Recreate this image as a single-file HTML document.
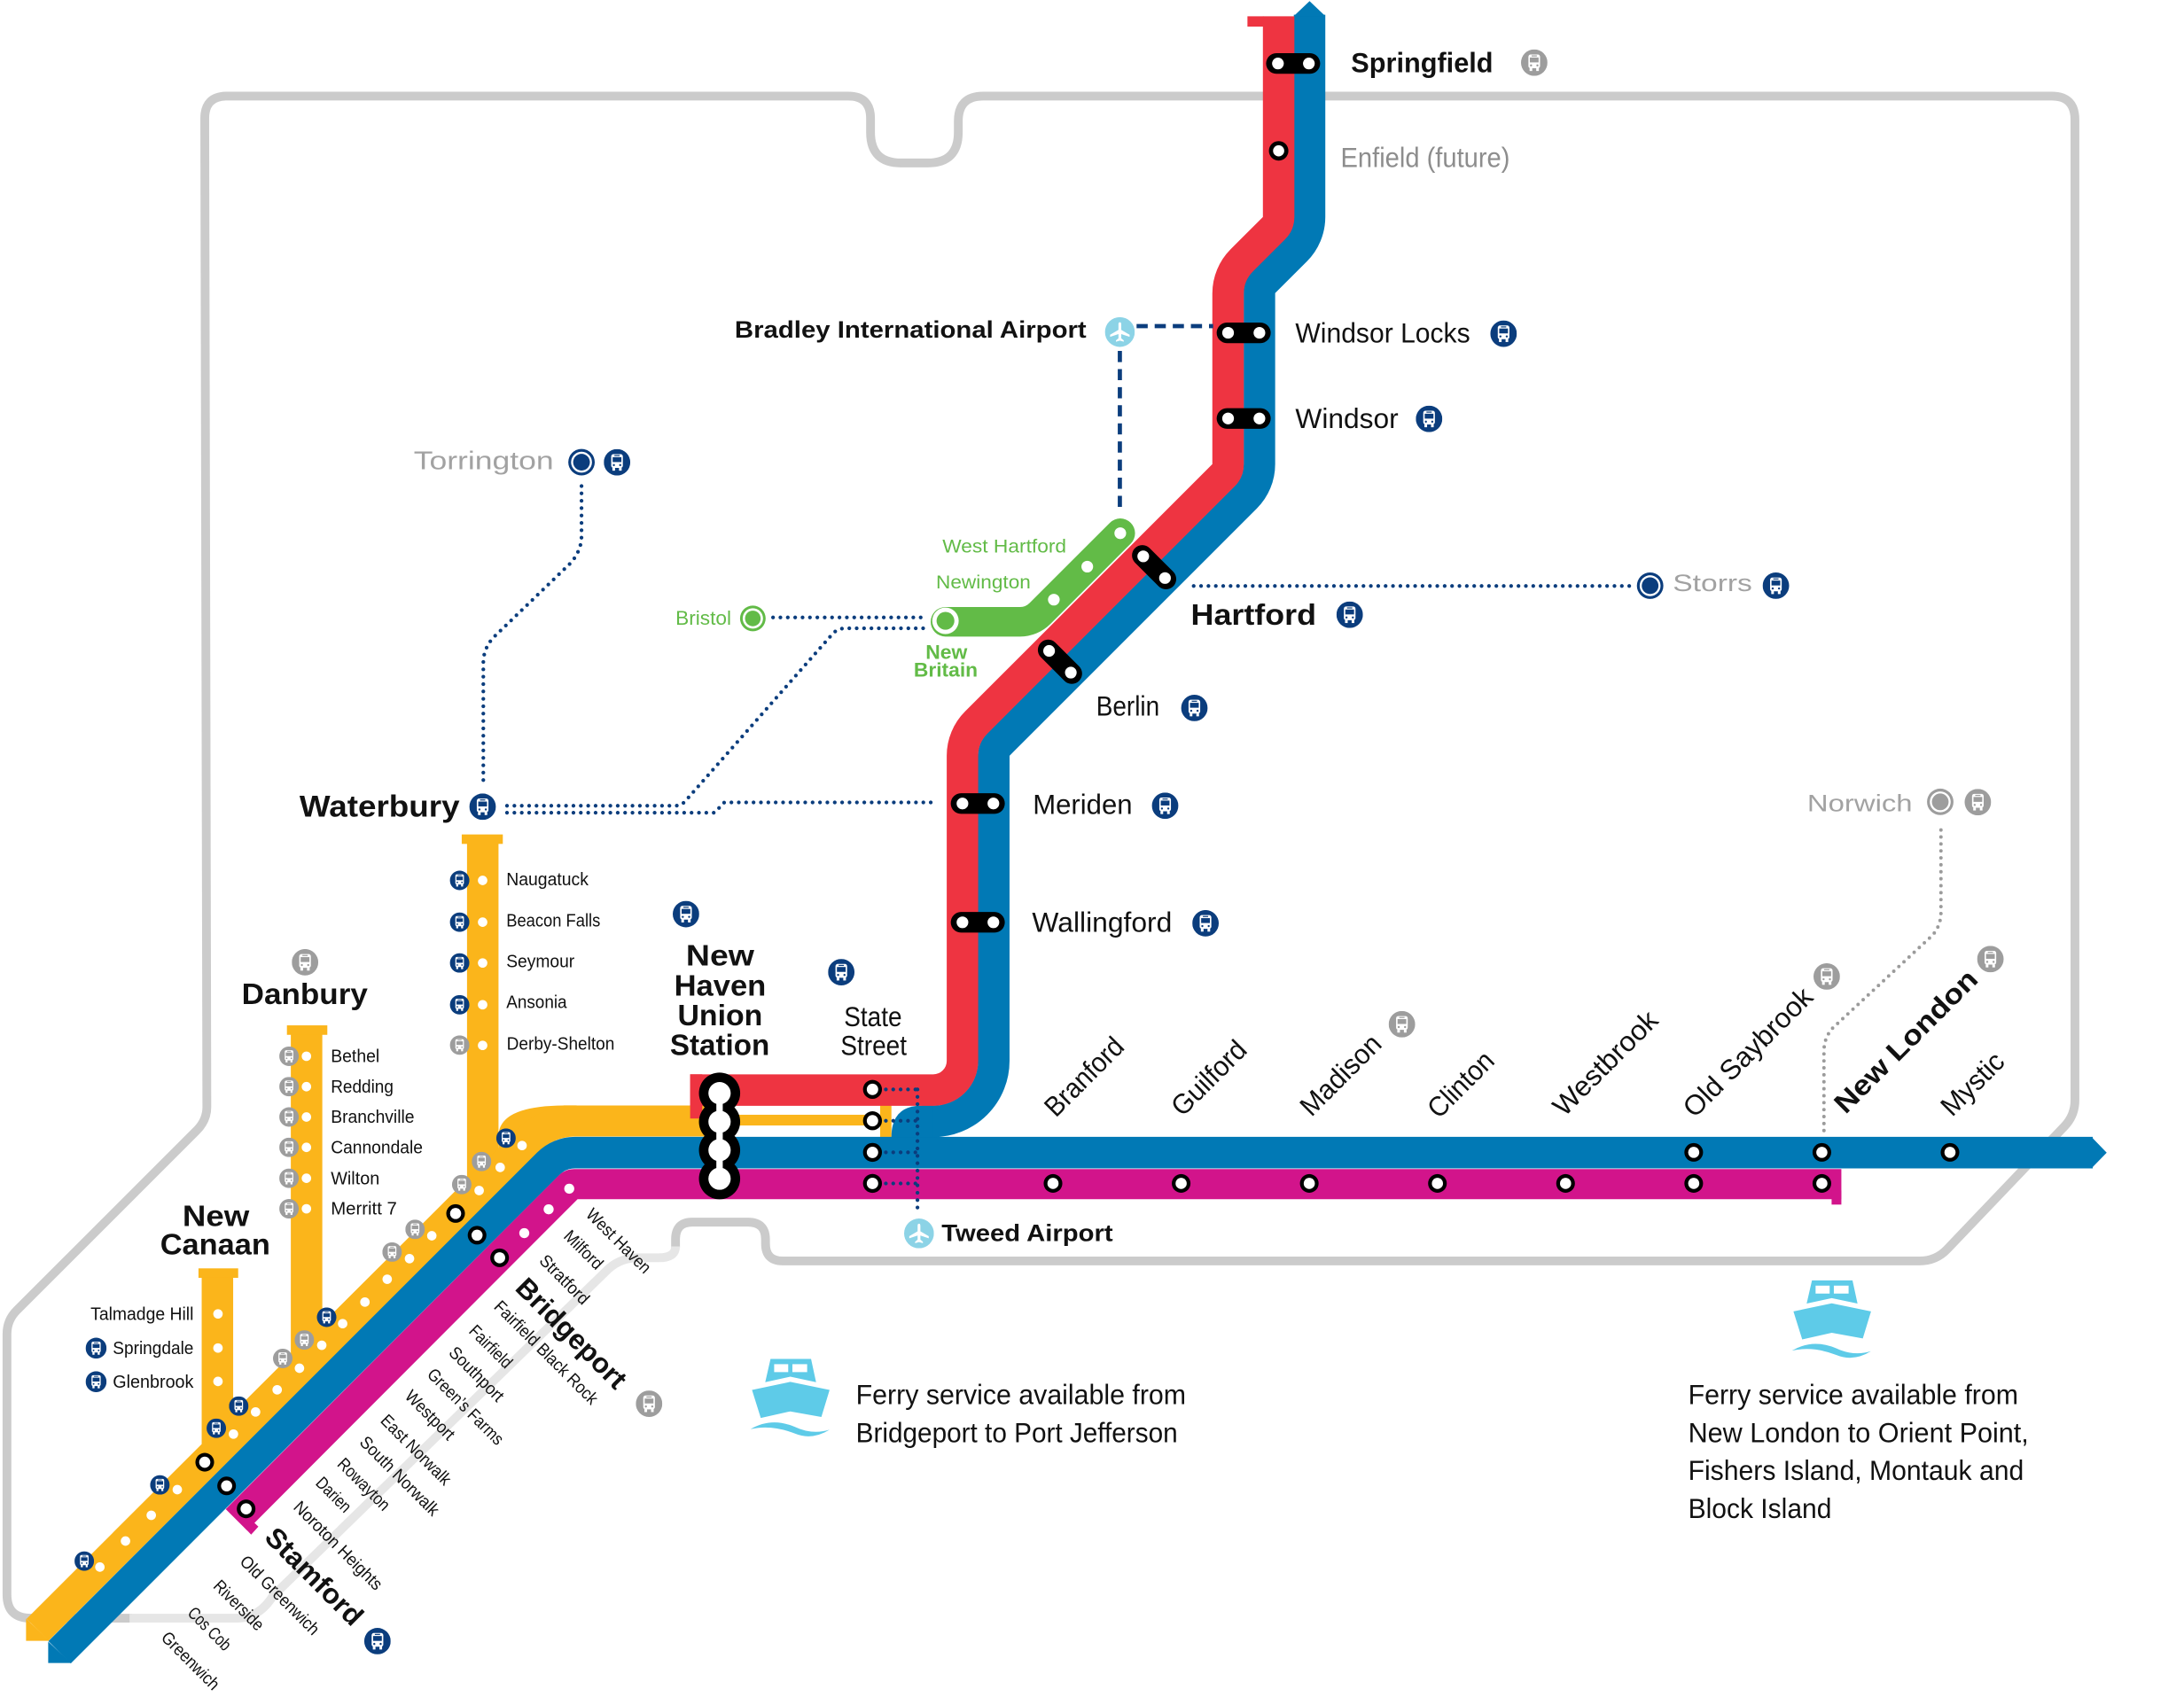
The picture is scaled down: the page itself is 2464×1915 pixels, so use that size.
<!DOCTYPE html>
<html><head><meta charset="utf-8"><style>
html,body{margin:0;padding:0;background:#fff;}
svg{display:block;}
text{font-family:"Liberation Sans",Arial,sans-serif;fill:#111;}
.b{font-weight:bold;}
.g{fill:#8d8d8d;}
.lg{fill:#a2a2a2;}
.gr{fill:#62bb47;}
.dot{fill:none;stroke:#0b3d7d;stroke-width:2.7;stroke-linecap:round;stroke-dasharray:0 5.3;}
.gdot{fill:none;stroke:#9b9b9b;stroke-width:2.5;stroke-linecap:round;stroke-dasharray:0 5;}
.dash{fill:none;stroke:#0b3d7d;stroke-width:3;stroke-dasharray:8 5;}
</style></head><body>
<svg width="2464" height="1915" viewBox="0 0 1568 1218.6" preserveAspectRatio="none" xmlns="http://www.w3.org/2000/svg">
<defs>
<symbol id="bn" viewBox="-10 -10 20 20"><circle r="10" fill="#0b3d7d"/><rect x="-4.4" y="-6.2" width="8.8" height="10.4" rx="1.7" fill="#fff"/><rect x="-3.3" y="-3.9" width="6.6" height="3.7" fill="#0b3d7d"/><rect x="-2" y="-5.5" width="4" height="0.8" fill="#0b3d7d"/><circle cx="-2.4" cy="2.1" r="0.8" fill="#0b3d7d"/><circle cx="2.4" cy="2.1" r="0.8" fill="#0b3d7d"/><rect x="-3.5" y="4" width="2" height="2.3" fill="#fff"/><rect x="1.5" y="4" width="2" height="2.3" fill="#fff"/></symbol>
<symbol id="bg" viewBox="-10 -10 20 20"><circle r="10" fill="#9d9d9d"/><rect x="-4.4" y="-6.2" width="8.8" height="10.4" rx="1.7" fill="#fff"/><rect x="-3.3" y="-3.9" width="6.6" height="3.7" fill="#9d9d9d"/><rect x="-2" y="-5.5" width="4" height="0.8" fill="#9d9d9d"/><circle cx="-2.4" cy="2.1" r="0.8" fill="#9d9d9d"/><circle cx="2.4" cy="2.1" r="0.8" fill="#9d9d9d"/><rect x="-3.5" y="4" width="2" height="2.3" fill="#fff"/><rect x="1.5" y="4" width="2" height="2.3" fill="#fff"/></symbol>
<symbol id="air" viewBox="-10.7 -10.7 21.4 21.4"><circle r="10.7" fill="#8cd3e6"/><path d="M0,-7 C1,-7 1,-6 1,-5 L1,-1.5 L7,2 L7,3.5 L1,1.5 L1,4.5 L2.8,6 L2.8,7 L0,6.2 L-2.8,7 L-2.8,6 L-1,4.5 L-1,1.5 L-7,3.5 L-7,2 L-1,-1.5 L-1,-5 C-1,-6 -1,-7 0,-7 Z" fill="#fff"/></symbol>
<g id="boat">
<polygon points="553.2,975.8 582.3,975.8 585.9,992.5 567.4,988.6 549.4,992.5" fill="#5ecbe8"/>
<rect x="555.8" y="979.6" width="10.1" height="5.7" fill="#fff"/>
<rect x="568.9" y="979.6" width="10.6" height="5.7" fill="#fff"/>
<polygon points="539.9,998.1 567.4,992.3 595.6,998.1 589.7,1017.5 567.4,1013.5 546.2,1018.2" fill="#5ecbe8"/>
<path d="M538.8,1026.3 Q553.7,1017.5 570.6,1024.6 Q583,1030.5 595.6,1026.7 Q583,1034.5 570.6,1029.4 Q553.7,1022.8 538.8,1026.3 Z" fill="#5ecbe8"/>
</g>
</defs>

<!-- border -->
<path d="M95,1162 L22,1162 Q5,1162 5,1145 L5,958 Q5,948 12,941 L141,812 Q148.5,804.5 148.5,795 L147,85 Q147,69 163,69 L609,69 Q625,69 625,85 L625,95 Q625,117 647,117 L666,117 Q688,117 688,95 L688,87 Q688,69 706,69 L1473,69 Q1489.7,69 1489.7,86 L1489.7,790 Q1489.7,801 1482,809 L1398,897 Q1390,905.5 1378,905.5 L562,905.5 Q549.6,905.5 549.6,893 L549.6,890 Q549.6,877.6 537,877.6 L497,877.6 Q485,877.6 485,890 L485,896" fill="none" stroke="#cbcbcb" stroke-width="6.3"/>
<path d="M485,895 Q485,903.2 473,903.2 L458,903.2 Q446,903.2 437,911 L196,1146 Q186,1162 170,1162 L93,1162" fill="none" stroke="#e6e6e6" stroke-width="6.3"/>

<!-- yellow -->
<g fill="#fbb51b">
<rect x="335.3" y="600" width="22.6" height="252"/>
<rect x="331.5" y="599.2" width="29.5" height="6.8"/>
<rect x="208.8" y="737" width="22.6" height="242"/>
<rect x="206" y="736.3" width="29" height="6.8"/>
<rect x="144.8" y="911" width="22.6" height="132"/>
<rect x="142.5" y="910.8" width="28.5" height="6.8"/>
<path d="M358,838 L358,814 Q360,794 405,793.8 L414,793.8 L414,810 Z"/>
<polygon points="18.7,1162.3 18.7,1178.3 35.3,1178.3"/>
<rect x="517" y="800.5" width="116" height="7.7"/>
<rect x="631.9" y="793.6" width="8.1" height="22.8"/>
</g>
<path d="M27,1170.3 L378.9,819.1 A48,48 0 0 1 412.9,805 L517,805" fill="none" stroke="#fbb51b" stroke-width="22.3"/>

<!-- blue main -->
<path d="M42.8,1186.5 L393.7,835.6 A27,27 0 0 1 412.8,827.7 L1502.5,827.7" fill="none" stroke="#0179b5" stroke-width="22.7"/>
<polygon points="34.6,1178.8 34.6,1194.2 51,1194.2" fill="#0179b5"/>
<polygon points="1501.5,816.35 1512.5,827.7 1501.5,839.05" fill="#0179b5"/>

<!-- magenta -->
<path d="M169.7,1091.3 L408.7,851.8 A5,5 0 0 1 412.3,850.3 L1322,850.3" fill="none" stroke="#d2148b" stroke-width="21.6"/>
<polygon points="175,1096.4 180.3,1102 185.5,1096.3 181,1092" fill="#d2148b"/>
<rect x="1315" y="855" width="7" height="10" fill="#d2148b"/>

<!-- blue hartford line -->
<path d="M940.2,10.6 L940.2,155.8 A33.75,33.75 0 0 1 930.3,179.7 L907.5,202.5 A11.25,11.25 0 0 0 904.2,210.5 L904.2,333.3 A33.75,33.75 0 0 1 894.3,357.2 L716.8,534.7 A11.25,11.25 0 0 0 713.5,542.7 L713.5,761.75 A43.5,43.5 0 0 1 670,805.25 L662,805.25" fill="none" stroke="#0179b5" stroke-width="22.6"/>
<path d="M670,793.9 L662,793.9 Q640,793.9 640,816.5 L670,816.5 Z" fill="#0179b5"/>
<polygon points="928.9,11.5 940.2,0.8 951.5,11.5" fill="#0179b5"/>

<!-- red -->
<path d="M918,11.7 L918,155.84 A11.25,11.25 0 0 1 914.7,163.8 L891.6,186.9 A33.75,33.75 0 0 0 881.7,210.8 L881.7,333.34 A11.25,11.25 0 0 1 878.4,341.3 L700.9,518.8 A33.75,33.75 0 0 0 691,542.7 L691,761.75 A21,21 0 0 1 670,782.75 L495.5,782.75" fill="none" stroke="#ee3441" stroke-width="22.6"/>
<rect x="895.6" y="11.7" width="11.6" height="7.4" fill="#ee3441"/>
<rect x="495.5" y="771.4" width="8.7" height="31.8" fill="#ee3441"/>

<!-- green -->
<path d="M678.8,446.5 L732.4,446.5 A20,20 0 0 0 746.6,440.6 L804.3,382.9" fill="none" stroke="#62bb47" stroke-width="21.2" stroke-linecap="round"/>
<circle cx="678.8" cy="445.8" r="9.5" fill="#fff"/><circle cx="678.8" cy="445.8" r="6.4" fill="#62bb47"/>
<g fill="#fff"><circle cx="804.3" cy="382.9" r="4.2"/><circle cx="780.6" cy="406.9" r="4.2"/><circle cx="756.6" cy="430.6" r="4.2"/></g>
<circle cx="540.5" cy="444.1" r="9.2" fill="#62bb47"/><circle cx="540.5" cy="444.1" r="7.3" fill="#fff"/><circle cx="540.5" cy="444.1" r="5.6" fill="#62bb47"/>

<!-- dotted connectors -->
<path class="dot" d="M417.5,349 L417.5,385 Q417.5,395 410,404 L354,458 Q347,466 347,476 L347,565"/>
<path class="dot" d="M364,578.6 L485,578.6 Q490,578.6 494,573 L597,456 Q601,451.2 607,451.2 L663,451.2"/>
<path class="dot" d="M364,583.6 L513,583.6 L520,576.2 L673,576.2"/>
<path class="dot" d="M555,443.4 L664,443.4"/>
<path class="dot" d="M857,420.8 L1172,420.8"/>
<path class="dot" d="M636,782.3 L658.7,782.3 M636,804.8 L658.7,804.8 M636,827.5 L658.7,827.5 M636,849.8 L658.7,849.8 M658.7,782.3 L658.7,869"/>
<path class="gdot" d="M1393.5,596 L1393.5,655 Q1393.5,665 1387,672 L1316,738 Q1309.5,745 1309.5,755 L1309.5,812"/>
<path class="dash" d="M816,234.2 L871,234.2"/>
<path class="dash" d="M804,252 L804,369"/>

<!-- pills -->
<g fill="#000">
<rect x="909" y="38.2" width="38.8" height="14.8" rx="7.4"/>
<rect x="873.5" y="231.6" width="38.8" height="14.8" rx="7.4"/>
<rect x="873.5" y="293.1" width="38.8" height="14.8" rx="7.4"/>
<rect x="682.6" y="569.6" width="38.8" height="14.8" rx="7.4"/>
<rect x="682.6" y="654.9" width="38.8" height="14.8" rx="7.4"/>
<rect x="-19.4" y="-7.4" width="38.8" height="14.8" rx="7.4" transform="translate(828.6,407.3) rotate(45)"/>
<rect x="-19.4" y="-7.4" width="38.8" height="14.8" rx="7.4" transform="translate(761,475.2) rotate(45)"/>
</g>
<g fill="#fff">
<circle cx="917.5" cy="45.6" r="4.2"/><circle cx="939.7" cy="45.6" r="4.2"/>
<circle cx="881.7" cy="239" r="4.2"/><circle cx="904.2" cy="239" r="4.2"/>
<circle cx="881.7" cy="300.5" r="4.2"/><circle cx="904.2" cy="300.5" r="4.2"/>
<circle cx="691" cy="577" r="4.2"/><circle cx="713.2" cy="577" r="4.2"/>
<circle cx="691" cy="662.3" r="4.2"/><circle cx="713.2" cy="662.3" r="4.2"/>
<circle cx="820.8" cy="399.5" r="4.2"/><circle cx="836.4" cy="415.1" r="4.2"/>
<circle cx="753.2" cy="467.4" r="4.2"/><circle cx="768.8" cy="483" r="4.2"/>
</g>

<!-- New Haven Union Station -->
<g fill="#000"><circle cx="516.6" cy="785" r="14.8"/><circle cx="516.6" cy="805.5" r="14.8"/><circle cx="516.6" cy="825.9" r="14.8"/><circle cx="516.6" cy="846.4" r="14.8"/></g>
<g fill="#fff"><circle cx="516.6" cy="785" r="8"/><circle cx="516.6" cy="805.5" r="8"/><circle cx="516.6" cy="825.9" r="8"/><circle cx="516.6" cy="846.4" r="8"/><rect x="514.3" y="785" width="4.6" height="61.4"/></g>

<!-- rings -->
<g fill="#000">
<circle cx="918" cy="108.3" r="7"/>
<circle cx="327.1" cy="871.4" r="6.7"/><circle cx="342.5" cy="887" r="6.7"/><circle cx="358.7" cy="903.2" r="6.7"/>
<circle cx="147" cy="1050" r="6.7"/><circle cx="162.7" cy="1067" r="6.7"/><circle cx="176.7" cy="1083.5" r="6.7"/>
<circle cx="626.4" cy="782.3" r="6.8"/><circle cx="626.4" cy="804.8" r="6.8"/><circle cx="626.4" cy="827.5" r="6.8"/><circle cx="626.4" cy="849.8" r="6.8"/>
<circle cx="756" cy="849.8" r="6.7"/><circle cx="848" cy="849.8" r="6.7"/><circle cx="940" cy="849.8" r="6.7"/><circle cx="1032" cy="849.8" r="6.7"/><circle cx="1124" cy="849.8" r="6.7"/><circle cx="1216" cy="849.8" r="6.7"/><circle cx="1308" cy="849.8" r="6.7"/>
<circle cx="1216" cy="827.5" r="6.7"/><circle cx="1308" cy="827.5" r="6.7"/><circle cx="1400" cy="827.5" r="6.7"/>
</g>
<g fill="#fff">
<circle cx="918" cy="108.3" r="4"/>
<circle cx="327.1" cy="871.4" r="4"/><circle cx="342.5" cy="887" r="4"/><circle cx="358.7" cy="903.2" r="4"/>
<circle cx="147" cy="1050" r="4"/><circle cx="162.7" cy="1067" r="4"/><circle cx="176.7" cy="1083.5" r="4"/>
<circle cx="626.4" cy="782.3" r="4.1"/><circle cx="626.4" cy="804.8" r="4.1"/><circle cx="626.4" cy="827.5" r="4.1"/><circle cx="626.4" cy="849.8" r="4.1"/>
<circle cx="756" cy="849.8" r="4"/><circle cx="848" cy="849.8" r="4"/><circle cx="940" cy="849.8" r="4"/><circle cx="1032" cy="849.8" r="4"/><circle cx="1124" cy="849.8" r="4"/><circle cx="1216" cy="849.8" r="4"/><circle cx="1308" cy="849.8" r="4"/>
<circle cx="1216" cy="827.5" r="4"/><circle cx="1308" cy="827.5" r="4"/><circle cx="1400" cy="827.5" r="4"/>
</g>

<!-- white dots on yellow / magenta -->
<g fill="#fff">
<circle cx="346.5" cy="632.2" r="3.4"/><circle cx="346.5" cy="662.2" r="3.4"/><circle cx="346.5" cy="691.5" r="3.4"/><circle cx="346.5" cy="721.5" r="3.4"/><circle cx="346.5" cy="750.7" r="3.4"/>
<circle cx="220" cy="758.5" r="3.4"/><circle cx="220" cy="780.3" r="3.4"/><circle cx="220" cy="802.1" r="3.4"/><circle cx="220" cy="823.9" r="3.4"/><circle cx="220" cy="846.1" r="3.4"/><circle cx="220" cy="868" r="3.4"/>
<circle cx="156.5" cy="943.5" r="3.4"/><circle cx="156.5" cy="968" r="3.4"/><circle cx="156.5" cy="992" r="3.4"/>
<circle cx="374.8" cy="822.6" r="3.4"/><circle cx="359.1" cy="838.3" r="3.4"/><circle cx="344" cy="854.9" r="3.4"/><circle cx="310" cy="887.4" r="3.4"/><circle cx="294" cy="903.8" r="3.4"/><circle cx="278" cy="918.6" r="3.4"/><circle cx="262" cy="935" r="3.4"/><circle cx="246" cy="950.5" r="3.4"/><circle cx="231" cy="966" r="3.4"/><circle cx="215" cy="982.5" r="3.4"/><circle cx="199" cy="998" r="3.4"/><circle cx="183.5" cy="1013.9" r="3.4"/><circle cx="167.6" cy="1029.8" r="3.4"/><circle cx="127.3" cy="1069.7" r="3.4"/><circle cx="108.6" cy="1088.1" r="3.4"/><circle cx="90.1" cy="1106.6" r="3.4"/><circle cx="71.7" cy="1125.3" r="3.4"/>
<circle cx="408.7" cy="853.6" r="3.6"/><circle cx="393.9" cy="868.4" r="3.6"/><circle cx="376.4" cy="885.5" r="3.6"/>
</g>

<!-- ring icons (Torrington, Storrs, Norwich) -->
<circle cx="417.5" cy="331.9" r="9.5" fill="#0b3d7d"/><circle cx="417.5" cy="331.9" r="7.5" fill="#fff"/><circle cx="417.5" cy="331.9" r="6" fill="#0b3d7d"/>
<circle cx="1184.7" cy="420.6" r="9.5" fill="#0b3d7d"/><circle cx="1184.7" cy="420.6" r="7.5" fill="#fff"/><circle cx="1184.7" cy="420.6" r="6" fill="#0b3d7d"/>
<circle cx="1393" cy="575.8" r="9.5" fill="#9d9d9d"/><circle cx="1393" cy="575.8" r="7.5" fill="#fff"/><circle cx="1393" cy="575.8" r="6" fill="#9d9d9d"/>

<!-- airports -->
<use href="#air" x="793.3" y="227.7" width="21.4" height="21.4"/>
<use href="#air" x="649.1" y="875" width="21.4" height="21.4"/>

<!-- big bus icons -->
<use href="#bg" x="1092" y="35.5" width="19" height="19"/>
<use href="#bg" x="1410.5" y="566.5" width="19" height="19"/>
<use href="#bg" x="209.5" y="681.5" width="19" height="19"/>
<use href="#bg" x="997" y="726" width="19" height="19"/>
<use href="#bg" x="1302" y="691.7" width="19" height="19"/>
<use href="#bg" x="1419.5" y="679.2" width="19" height="19"/>
<use href="#bg" x="456.5" y="998.5" width="19" height="19"/>
<use href="#bn" x="1070" y="230.1" width="19" height="19"/>
<use href="#bn" x="1016.5" y="291.3" width="19" height="19"/>
<use href="#bn" x="433.5" y="322.5" width="19" height="19"/>
<use href="#bn" x="1265.5" y="411.1" width="19" height="19"/>
<use href="#bn" x="959.5" y="431.9" width="19" height="19"/>
<use href="#bn" x="848" y="498.9" width="19" height="19"/>
<use href="#bn" x="337" y="569.8" width="19" height="19"/>
<use href="#bn" x="827" y="569.1" width="19" height="19"/>
<use href="#bn" x="483" y="646.9" width="19" height="19"/>
<use href="#bn" x="856" y="653.5" width="19" height="19"/>
<use href="#bn" x="594.5" y="688.6" width="19" height="19"/>
<use href="#bn" x="261.5" y="1169" width="19" height="19"/>

<!-- small bus icons -->
<use href="#bn" x="323" y="625.2" width="14" height="14"/>
<use href="#bn" x="323" y="655.2" width="14" height="14"/>
<use href="#bn" x="323" y="684.5" width="14" height="14"/>
<use href="#bn" x="323" y="714.5" width="14" height="14"/>
<use href="#bg" x="323" y="743.5" width="14" height="14"/>
<use href="#bg" x="200.5" y="751.5" width="14" height="14"/>
<use href="#bg" x="200.5" y="773.3" width="14" height="14"/>
<use href="#bg" x="200.5" y="795.1" width="14" height="14"/>
<use href="#bg" x="200.5" y="816.9" width="14" height="14"/>
<use href="#bg" x="200.5" y="839.1" width="14" height="14"/>
<use href="#bg" x="200.5" y="861" width="14" height="14"/>
<use href="#bn" x="61.5" y="960.6" width="15" height="15"/>
<use href="#bn" x="61.5" y="984.7" width="15" height="15"/>
<use href="#bn" x="356.3" y="810.3" width="14" height="14"/>
<use href="#bn" x="227.5" y="938.9" width="14" height="14"/>
<use href="#bn" x="164.4" y="1002.7" width="14" height="14"/>
<use href="#bn" x="148.3" y="1018.6" width="14" height="14"/>
<use href="#bn" x="107.8" y="1059.3" width="14" height="14"/>
<use href="#bn" x="53.5" y="1114" width="14" height="14"/>
<use href="#bg" x="338.7" y="827.1" width="14" height="14"/>
<use href="#bg" x="324.5" y="843.6" width="14" height="14"/>
<use href="#bg" x="291" y="875.8" width="14" height="14"/>
<use href="#bg" x="274.5" y="892.1" width="14" height="14"/>
<use href="#bg" x="211.5" y="955.2" width="14" height="14"/>
<use href="#bg" x="196" y="968.5" width="14" height="14"/>

<!-- ferries -->
<use href="#boat"/>
<use href="#boat" transform="translate(747.7,-56.4)"/>

<!-- labels: top / Hartford line -->
<text class="b" x="970" y="52" font-size="20" textLength="102" lengthAdjust="spacingAndGlyphs">Springfield</text>
<text class="g" x="962.5" y="120" font-size="20" textLength="121.5" lengthAdjust="spacingAndGlyphs">Enfield (future)</text>
<text x="930" y="246" font-size="20" textLength="125.5" lengthAdjust="spacingAndGlyphs">Windsor Locks</text>
<text x="930" y="307.5" font-size="20" textLength="74" lengthAdjust="spacingAndGlyphs">Windsor</text>
<text class="b" x="855" y="448.5" font-size="21" textLength="90" lengthAdjust="spacingAndGlyphs">Hartford</text>
<text x="787" y="514" font-size="20" textLength="45.5" lengthAdjust="spacingAndGlyphs">Berlin</text>
<text x="741.5" y="584.4" font-size="20" textLength="71.5" lengthAdjust="spacingAndGlyphs">Meriden</text>
<text x="741" y="669" font-size="20" textLength="100.5" lengthAdjust="spacingAndGlyphs">Wallingford</text>
<text class="lg" x="1201" y="424.5" font-size="17" textLength="57" lengthAdjust="spacingAndGlyphs">Storrs</text>
<text class="lg" x="1297.5" y="582.5" font-size="17" textLength="75.5" lengthAdjust="spacingAndGlyphs">Norwich</text>
<text class="lg" x="297" y="337" font-size="18" textLength="100.5" lengthAdjust="spacingAndGlyphs">Torrington</text>
<text class="b" x="527.5" y="242.5" font-size="17" textLength="252.5" lengthAdjust="spacingAndGlyphs">Bradley International Airport</text>
<text class="b" x="215" y="586.3" font-size="22" textLength="115" lengthAdjust="spacingAndGlyphs">Waterbury</text>
<text class="gr" x="676.6" y="396.7" font-size="13.5" textLength="89" lengthAdjust="spacingAndGlyphs">West Hartford</text>
<text class="gr" x="672" y="422.6" font-size="13.5" textLength="68" lengthAdjust="spacingAndGlyphs">Newington</text>
<text class="gr" x="485" y="448.5" font-size="14" textLength="40" lengthAdjust="spacingAndGlyphs">Bristol</text>
<text class="gr b" x="664.5" y="473.2" font-size="14" textLength="30" lengthAdjust="spacingAndGlyphs">New</text>
<text class="gr b" x="656" y="486" font-size="14" textLength="46" lengthAdjust="spacingAndGlyphs">Britain</text>

<!-- branch labels -->
<g font-size="13">
<text x="363.5" y="635.8" textLength="59" lengthAdjust="spacingAndGlyphs">Naugatuck</text>
<text x="363.5" y="665.4" textLength="67.5" lengthAdjust="spacingAndGlyphs">Beacon Falls</text>
<text x="363.5" y="694.5" textLength="49" lengthAdjust="spacingAndGlyphs">Seymour</text>
<text x="363.5" y="724" textLength="43.5" lengthAdjust="spacingAndGlyphs">Ansonia</text>
<text x="363.8" y="753.7" textLength="77.4" lengthAdjust="spacingAndGlyphs">Derby-Shelton</text>
<text x="237.5" y="762.8" textLength="35" lengthAdjust="spacingAndGlyphs">Bethel</text>
<text x="237.5" y="784.5" textLength="45" lengthAdjust="spacingAndGlyphs">Redding</text>
<text x="237.5" y="806.4" textLength="60" lengthAdjust="spacingAndGlyphs">Branchville</text>
<text x="237.5" y="828.2" textLength="66" lengthAdjust="spacingAndGlyphs">Cannondale</text>
<text x="237.5" y="850.4" textLength="35" lengthAdjust="spacingAndGlyphs">Wilton</text>
<text x="237.5" y="872.2" textLength="47.5" lengthAdjust="spacingAndGlyphs">Merritt 7</text>
<text x="65" y="947.8" textLength="74" lengthAdjust="spacingAndGlyphs">Talmadge Hill</text>
<text x="81" y="972.4" textLength="58" lengthAdjust="spacingAndGlyphs">Springdale</text>
<text x="81" y="996.5" textLength="58" lengthAdjust="spacingAndGlyphs">Glenbrook</text>
</g>
<text class="b" x="173.5" y="721" font-size="21" textLength="90.5" lengthAdjust="spacingAndGlyphs">Danbury</text>
<text class="b" x="131" y="880.4" font-size="21" textLength="48" lengthAdjust="spacingAndGlyphs">New</text>
<text class="b" x="115" y="900.7" font-size="21" textLength="79" lengthAdjust="spacingAndGlyphs">Canaan</text>

<!-- New Haven -->
<g class="b" font-size="21.5">
<text class="b" x="492.5" y="693.4" textLength="49" lengthAdjust="spacingAndGlyphs">New</text>
<text class="b" x="484" y="714.8" textLength="66" lengthAdjust="spacingAndGlyphs">Haven</text>
<text class="b" x="486.5" y="736.3" textLength="61" lengthAdjust="spacingAndGlyphs">Union</text>
<text class="b" x="481" y="757.7" textLength="71.5" lengthAdjust="spacingAndGlyphs">Station</text>
</g>
<text x="606" y="737" font-size="20" textLength="41.5" lengthAdjust="spacingAndGlyphs">State</text>
<text x="603.5" y="757.7" font-size="20" textLength="47.5" lengthAdjust="spacingAndGlyphs">Street</text>
<text class="b" x="676" y="891.3" font-size="17" textLength="123" lengthAdjust="spacingAndGlyphs">Tweed Airport</text>

<!-- ferry text -->
<g font-size="20">
<text x="614.5" y="1008.4" textLength="237" lengthAdjust="spacingAndGlyphs">Ferry service available from</text>
<text x="614.5" y="1035.5" textLength="231" lengthAdjust="spacingAndGlyphs">Bridgeport to Port Jefferson</text>
<text x="1212" y="1008.2" textLength="237" lengthAdjust="spacingAndGlyphs">Ferry service available from</text>
<text x="1212" y="1035.5" textLength="244.5" lengthAdjust="spacingAndGlyphs">New London to Orient Point,</text>
<text x="1212" y="1062.8" textLength="241" lengthAdjust="spacingAndGlyphs">Fishers Island, Montauk and</text>
<text x="1212" y="1090" textLength="103" lengthAdjust="spacingAndGlyphs">Block Island</text>
</g>

<!-- shore line east labels (rotated -45) -->
<g font-size="20">
<text transform="translate(758,803) rotate(-45)" textLength="71" lengthAdjust="spacingAndGlyphs">Branford</text>
<text transform="translate(849,802.5) rotate(-45)" textLength="67" lengthAdjust="spacingAndGlyphs">Guilford</text>
<text transform="translate(941.5,802.5) rotate(-45)" textLength="73" lengthAdjust="spacingAndGlyphs">Madison</text>
<text transform="translate(1033,804) rotate(-45)" textLength="58" lengthAdjust="spacingAndGlyphs">Clinton</text>
<text transform="translate(1123,802.5) rotate(-45)" textLength="97" lengthAdjust="spacingAndGlyphs">Westbrook</text>
<text transform="translate(1216.5,803.5) rotate(-45)" textLength="122" lengthAdjust="spacingAndGlyphs">Old Saybrook</text>
<text class="b" transform="translate(1325,800.6) rotate(-45)" textLength="136" lengthAdjust="spacingAndGlyphs">New London</text>
<text transform="translate(1401.5,802.5) rotate(-45)" textLength="55" lengthAdjust="spacingAndGlyphs">Mystic</text>
</g>

<!-- new haven line labels (rotated 45) -->
<g font-size="12.5">
<text transform="translate(420,872.8) rotate(45)" textLength="60" lengthAdjust="spacingAndGlyphs">West Haven</text>
<text transform="translate(404,888.4) rotate(45)" textLength="34" lengthAdjust="spacingAndGlyphs">Milford</text>
<text transform="translate(386.5,906) rotate(45)" textLength="44.7" lengthAdjust="spacingAndGlyphs">Stratford</text>
<text transform="translate(354,939) rotate(45)" textLength="99.5" lengthAdjust="spacingAndGlyphs">Fairfield Black Rock</text>
<text transform="translate(336,956.5) rotate(45)" textLength="38" lengthAdjust="spacingAndGlyphs">Fairfield</text>
<text transform="translate(321.5,972) rotate(45)" textLength="50" lengthAdjust="spacingAndGlyphs">Southport</text>
<text transform="translate(306,987.7) rotate(45)" textLength="71.7" lengthAdjust="spacingAndGlyphs">Green’s Farms</text>
<text transform="translate(290,1003.3) rotate(45)" textLength="44.7" lengthAdjust="spacingAndGlyphs">Westport</text>
<text transform="translate(272.5,1020.8) rotate(45)" textLength="65.7" lengthAdjust="spacingAndGlyphs">East Norwalk</text>
<text transform="translate(257.5,1036.4) rotate(45)" textLength="74.8" lengthAdjust="spacingAndGlyphs">South Norwalk</text>
<text transform="translate(241.5,1052) rotate(45)" textLength="47.5" lengthAdjust="spacingAndGlyphs">Rowayton</text>
<text transform="translate(226,1065.6) rotate(45)" textLength="30.1" lengthAdjust="spacingAndGlyphs">Darien</text>
<text transform="translate(210,1083) rotate(45)" textLength="84.3" lengthAdjust="spacingAndGlyphs">Noroton Heights</text>
<text transform="translate(171.5,1122) rotate(45)" textLength="74.8" lengthAdjust="spacingAndGlyphs">Old Greenwich</text>
<text transform="translate(152.5,1139.6) rotate(45)" textLength="45.4" lengthAdjust="spacingAndGlyphs">Riverside</text>
<text transform="translate(134,1159) rotate(45)" textLength="38.3" lengthAdjust="spacingAndGlyphs">Cos Cob</text>
<text transform="translate(115,1176.7) rotate(45)" textLength="53.3" lengthAdjust="spacingAndGlyphs">Greenwich</text>
</g>
<text class="b" font-size="20" transform="translate(369,925.8) rotate(45)" textLength="103" lengthAdjust="spacingAndGlyphs">Bridgeport</text>
<text class="b" font-size="20" transform="translate(189,1105) rotate(45)" textLength="90" lengthAdjust="spacingAndGlyphs">Stamford</text>
</svg>
</body></html>
